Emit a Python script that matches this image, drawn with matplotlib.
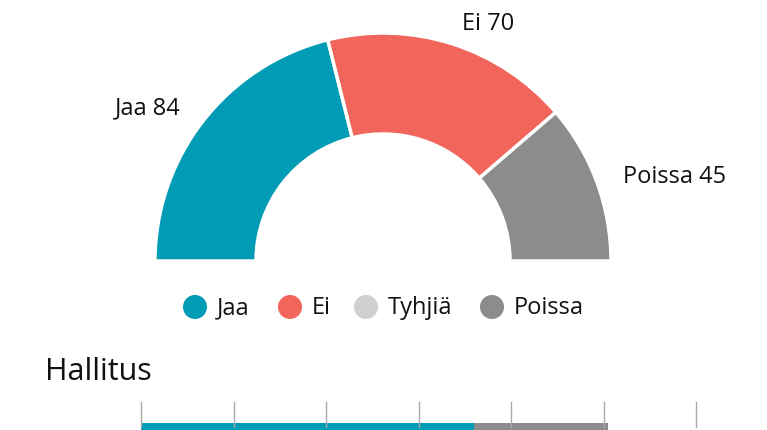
import matplotlib
matplotlib.use("Agg")
import matplotlib.pyplot as plt
from matplotlib.patches import Wedge, Circle, Rectangle

categories = ["Jaa", "Ei", "Tyhjiä", "Poissa"]
votes = [84, 70, 0, 45]
colors = ["#009bb4", "#f2655a", "#d0d0d0", "#8c8c8c"]
gov_values = [72, 0, 0, 29]
gov_ticks = [0, 20, 40, 60, 80, 100, 120]

W, H = 767, 431
fig = plt.figure(figsize=(W/100, H/100), dpi=100)
ax = fig.add_axes([0, 0, 1, 1])
ax.set_xlim(0, W); ax.set_ylim(H, 0); ax.axis("off")
plt.rcParams['font.family'] = ['Open Sans', 'DejaVu Sans']
tc = "#111111"

cx, cy, R, r = 383, 262, 228, 127
total = sum(votes)
ang = 180.0
label_pos = {"Jaa": (148, 108), "Ei": (488, 24), "Poissa": (675, 177)}
for c, v, col in zip(categories, votes, colors):
    if v == 0:
        continue
    span = 180.0 * v / total
    w = Wedge((cx, cy), R, -ang, -(ang - span), width=R - r, facecolor=col,
              edgecolor="white", linewidth=2.5)
    ax.add_patch(w)
    ang -= span
    x, y = label_pos[c]
    ax.text(x, y, f"{c} {v}", fontsize=17, ha="center", va="center", color=tc)

lx = [195, 290, 366, 492]
for x, c, col in zip(lx, categories, colors):
    ax.add_patch(Circle((x, 308), 12, facecolor=col, edgecolor="none"))
    ax.text(x + 22, 308, c, fontsize=17, ha="left", va="center", color=tc)

ax.text(45, 372, "Hallitus", fontsize=22, ha="left", va="center", color=tc)

x0, unit = 141, (696 - 141) / 120
for t in gov_ticks:
    ax.plot([x0 + t*unit]*2, [403, 428], color="#aaaaaa", lw=1)
start = 0
for v, col in zip(gov_values, colors):
    if v == 0:
        continue
    ax.add_patch(Rectangle((x0 + start*unit, 424), v*unit, 8, facecolor=col, edgecolor="none"))
    start += v

fig.savefig("out.png", dpi=100)
